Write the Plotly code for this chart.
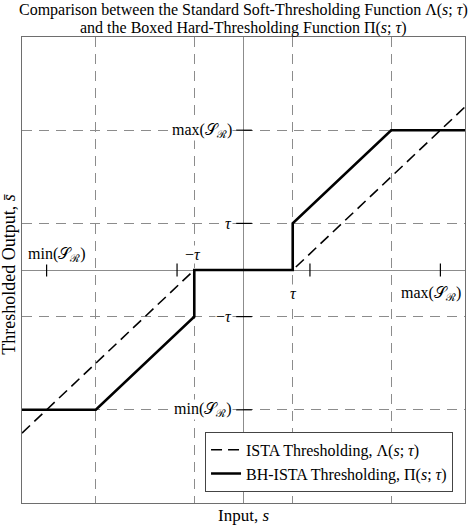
import numpy as np
import plotly.graph_objects as go

# ---- data (units of tau) ----
tau = 1.0
s_min, s_max = -3.0, 3.0

# ISTA soft thresholding: breakpoints
ista_x = [-4.5, -1.0, 1.0, 4.5]
ista_y = [-3.5, 0.0, 0.0, 3.5]

# BH-ISTA boxed hard thresholding: breakpoints (vertical jumps at +-tau)
bh_x = [-4.5, -3.0, -1.0, -1.0, 1.0, 1.0, 3.0, 4.5]
bh_y = [-3.0, -3.0, -1.0, 0.0, 0.0, 1.0, 3.0, 3.0]

grid_vals = [-3, -1, 1, 3]

# axis tick marks drawn on the zero lines
x_tick_pos = [-4.0, -1.35, 1.35, 4.0]
y_tick_pos = [-3.0, -1.0, 1.0, 3.0]

# labels on the x zero line
x_lab_pos = [-3.78, -1.03, 1.02, 3.8]
x_lab_txt = ["min(𝒮<sub>ℛ</sub>)", "−<i>τ</i>", "<i>τ</i>", "max(𝒮<sub>ℛ</sub>)"]
x_lab_side = ["above", "above", "below", "below"]

y_lab_txt = ["min(𝒮<sub>ℛ</sub>)", "−<i>τ</i>", "<i>τ</i>", "max(𝒮<sub>ℛ</sub>)"]

title_lines = ["Comparison between the Standard Soft-Thresholding Function Λ(<i>s</i>; <i>τ</i>)",
               "and the Boxed Hard-Thresholding Function Π(<i>s</i>; <i>τ</i>)"]

FONT = "Liberation Serif"
GRID = "#8c8c8c"
LBL = dict(family=FONT, size=16, color="black")

fig = go.Figure()
fig.add_trace(go.Scatter(x=ista_x, y=ista_y, mode="lines",
                         line=dict(color="black", width=1.6, dash="11px,6px"),
                         name="ISTA Thresholding, Λ(<i>s</i>; <i>τ</i>)"))
fig.add_trace(go.Scatter(x=bh_x, y=bh_y, mode="lines",
                         line=dict(color="black", width=2.6),
                         name="BH-ISTA Thresholding, Π(<i>s</i>; <i>τ</i>)"))

shapes = []
for xt in x_tick_pos:
    shapes.append(dict(type="line", xref="x", yref="y", x0=xt, x1=xt, y0=-0.14, y1=0.14,
                       line=dict(color="black", width=1.2)))
for yt in y_tick_pos:
    shapes.append(dict(type="line", xref="x", yref="y", x0=-0.15, x1=0.17, y0=yt, y1=yt,
                       line=dict(color="black", width=1.2)))

annotations = []
for xp, txt, side in zip(x_lab_pos, x_lab_txt, x_lab_side):
    annotations.append(dict(x=xp, y=0, xref="x", yref="y", text=txt, showarrow=False,
                            yshift=(16 if side == "above" else -23),
                            bgcolor="white", borderpad=0, font=LBL))
for yp, txt in zip(y_tick_pos, y_lab_txt):
    annotations.append(dict(x=-0.22, y=yp, xref="x", yref="y", text=txt, showarrow=False,
                            xanchor="right", yanchor="middle",
                            bgcolor="white", borderpad=0, font=LBL))

# title (two lines)
for yy, txt in zip([1.058, 1.019], title_lines):
    annotations.append(dict(x=0.5, y=yy, xref="paper", yref="paper", text=txt, showarrow=False,
                            xanchor="center", yanchor="middle",
                            font=dict(family=FONT, size=16, color="black")))
# axis titles
annotations.append(dict(x=0.5, y=-0.027, xref="paper", yref="paper", text="Input, <i>s</i>",
                        showarrow=False, xanchor="center", yanchor="middle",
                        font=dict(family=FONT, size=17, color="black")))
annotations.append(dict(x=-0.029, y=0.49, xref="paper", yref="paper",
                        text="Thresholded Output, <i>s̄</i>", textangle=-90,
                        showarrow=False, xanchor="center", yanchor="middle",
                        font=dict(family=FONT, size=18, color="black")))

axis_common = dict(showgrid=True, gridcolor=GRID, griddash="10px,7px", gridwidth=1,
                   tickvals=grid_vals, showticklabels=False, ticks="",
                   zeroline=True, zerolinecolor=GRID, zerolinewidth=1,
                   showline=True, linecolor="#6e6e6e", linewidth=1.3, mirror=True)

fig.update_layout(
    width=474, height=525,
    margin=dict(l=22, r=9, t=37, b=22),
    paper_bgcolor="white", plot_bgcolor="white",
    xaxis=dict(range=[-4.5, 4.5], **axis_common),
    yaxis=dict(range=[-5, 5], **axis_common),
    legend=dict(x=0.973, y=0.024, xanchor="right", yanchor="bottom",
                bgcolor="white", bordercolor="#444", borderwidth=1,
                font=dict(family=FONT, size=16, color="black"),
                tracegroupgap=0, itemwidth=30),
    shapes=shapes, annotations=annotations,
    showlegend=True,
)

fig.write_html("out.html")
